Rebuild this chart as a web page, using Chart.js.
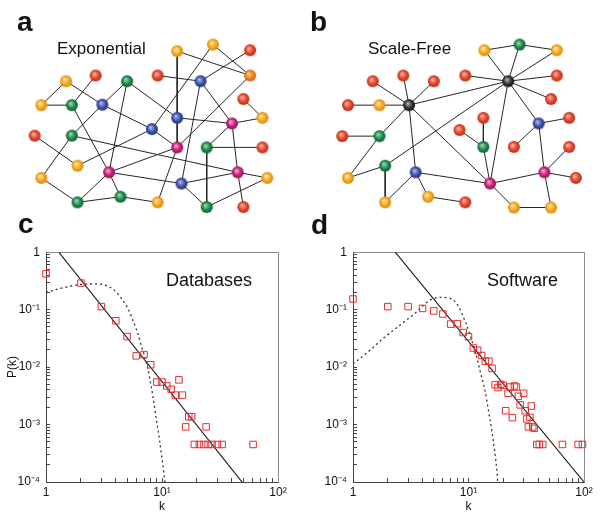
<!DOCTYPE html>
<html>
<head>
<meta charset="utf-8">
<script src="https://cdn.jsdelivr.net/npm/chart.js@4.4.1/dist/chart.umd.min.js"></script>
<style>
  body { margin: 0; background: #fff; }
  #fig { position: relative; width: 600px; height: 517px; background: #fff; font-family: "Liberation Sans", Arial, sans-serif; }
  #fig canvas { position: absolute; }
  .txt { position: absolute; white-space: nowrap; color: #111; }
  .panel { font-size: 28px; line-height: 28px; font-weight: bold; }
  .name { font-size: 17px; line-height: 17px; }
  .series { font-size: 18px; line-height: 18px; }
</style>
</head>
<body>
<div id="fig">
  <canvas id="netA" width="300" height="230" style="left:0;top:0"></canvas>
  <canvas id="netB" width="300" height="230" style="left:300px;top:0"></canvas>
  <canvas id="plotC" width="300" height="282" style="left:0;top:235px"></canvas>
  <canvas id="plotD" width="300" height="282" style="left:300px;top:235px"></canvas>
  <div class="txt panel" style="left:17px;top:8px">a</div>
  <div class="txt panel" style="left:310px;top:8px">b</div>
  <div class="txt panel" style="left:18px;top:210px">c</div>
  <div class="txt panel" style="left:311px;top:211px">d</div>
  <div class="txt name" style="left:57px;top:40px">Exponential</div>
  <div class="txt name" style="left:368px;top:40px">Scale-Free</div>
  <div class="txt series" style="left:166px;top:271px">Databases</div>
  <div class="txt series" style="left:487px;top:271px">Software</div>
</div>
<script>
// ---- network a (exponential) : node positions, colours, links
const aX = [178.5, 216, 255, 93, 126, 158, 203, 255, 62, 36, 68, 100, 248, 178.5, 268, 236, 29,
            68, 152, 178.5, 209.5, 268, 74, 107, 242, 36, 183, 273, 74, 119, 158, 209.5, 248];
const aY = [47, 40, 46, 73, 79, 73, 79, 73, 79, 104.5, 104.5, 104, 98, 118, 118, 124, 137,
            137, 130, 149.5, 149.5, 149.5, 169, 176, 176, 182, 188, 182, 208, 202, 208, 213, 213];
const aColor = ["orange", "orange", "red", "red", "green", "red", "blue", "darkorange", "orange", "orange", "green",
                "blue", "red", "blue", "orange", "pink", "red", "green", "blue", "pink", "green", "red",
                "orange", "pink", "pink", "orange", "blue", "orange", "green", "green", "orange", "green", "red"];
const aEdges = [[1, 14], [14, 20], [1, 8], [2, 8], [2, 19], [3, 7], [6, 7], [7, 16], [7, 27], [8, 20],
                [4, 11], [9, 10], [9, 12], [10, 11], [5, 12], [5, 24], [5, 14], [11, 24], [12, 18], [12, 19],
                [13, 15], [14, 16], [16, 15], [16, 21], [16, 25], [17, 23], [18, 26], [18, 25], [23, 19],
                [19, 20], [20, 24], [20, 31], [21, 22], [21, 32], [24, 27], [27, 25], [27, 32], [25, 28],
                [25, 33], [28, 32], [24, 29], [24, 30], [26, 29], [29, 30], [30, 31]];

// ---- network b (scale-free)
const bX = [486, 523, 562, 401, 466, 511, 562, 369, 433, 343, 376, 407, 556, 485, 543, 575, 337,
            376, 460, 485, 517, 575, 382, 414, 549, 343, 492, 582, 382, 427, 466, 517, 556];
const bY = [46, 40, 46, 73, 73, 79, 73, 79, 79, 104.5, 104.5, 104.5, 98, 118, 124, 118, 137.5,
            137.5, 131, 149, 149, 149, 169, 176, 176, 182, 188, 182, 208, 202, 208, 213.5, 213.5];
const bColor = ["orange", "green", "orange", "red", "red", "black", "red", "red", "red", "red", "orange",
                "black", "red", "red", "blue", "red", "red", "green", "red", "green", "red", "red",
                "green", "blue", "pink", "orange", "pink", "red", "orange", "orange", "red", "orange", "orange"];
const bEdges = [[1, 2], [2, 3], [1, 6], [2, 6], [3, 6], [5, 6], [6, 7], [6, 13], [6, 15], [6, 27], [6, 12],
                [6, 23], [12, 8], [12, 4], [12, 9], [12, 11], [10, 11], [12, 18], [17, 18], [18, 26], [26, 23],
                [23, 29], [29, 24], [12, 24], [24, 30], [30, 31], [24, 27], [12, 27], [14, 20], [19, 20],
                [20, 27], [15, 16], [15, 21], [15, 25], [25, 22], [25, 28], [25, 27], [25, 33], [27, 32], [32, 33]];

// ---- c: Databases
const cK = [1, 2, 3, 4, 5, 6, 7, 8, 9, 10, 11, 12, 13, 14, 15, 16, 17, 18, 19, 21, 23, 24, 25, 27, 30, 33, 61];
const cP = [0.42, 0.29, 0.113, 0.064, 0.034, 0.0157, 0.0165, 0.011, 0.0055, 0.0055, 0.0047, 0.0041, 0.00325,
            0.006, 0.00325, 0.00091, 0.00137, 0.00137, 0.00045, 0.00045, 0.00045, 0.00091, 0.00045, 0.00045,
            0.00045, 0.00045, 0.00045];
const cFitK = [1.29, 49];
const cFitP = [1, 0.0001];
const cExpK = [1, 1.4, 2.0, 2.7, 3.5, 4.1, 4.7, 5.2, 5.7, 6.2, 6.7, 7.2, 7.8, 8.3, 8.9, 9.5, 10.1, 10.6];
const cExpP = [0.2, 0.24, 0.275, 0.28, 0.25, 0.195, 0.135, 0.095, 0.06, 0.038, 0.022, 0.014, 0.0068, 0.0033,
               0.0013, 0.00055, 0.00022, 0.0001];

// ---- d: Software
const dK = [1, 2, 3, 4, 5, 6, 7, 8, 9, 10, 11, 12, 13, 14, 15, 16, 17, 18, 19, 20, 21, 22, 23, 24, 25, 26, 27, 28,
            30, 31, 32, 33, 34, 35, 36, 37, 39, 41, 44, 65, 89, 97];
const dP = [0.153, 0.113, 0.113, 0.105, 0.095, 0.084, 0.056, 0.057, 0.040, 0.034, 0.0215, 0.0196, 0.0159, 0.0127,
            0.0127, 0.0095, 0.0049, 0.0044, 0.0050, 0.0048, 0.00174, 0.0035, 0.0045, 0.00132, 0.0047, 0.0045,
            0.0031, 0.0022, 0.0035, 0.00174, 0.00125, 0.00091, 0.00134, 0.0021, 0.00091, 0.00086,
            0.00045, 0.00045, 0.00045, 0.00045, 0.00045, 0.00045];
const dFitK = [2.32, 100];
const dFitP = [1, 0.0001];
const dExpK = [1, 1.32, 1.84, 2.56, 3.57, 4.66, 5.69, 6.94, 8.2, 9.36, 10.3, 11.4, 12.6, 13.9, 14.9, 15.9, 16.8, 17.6, 17.9];
const dExpP = [0.0114, 0.0177, 0.032, 0.054, 0.092, 0.147, 0.163, 0.157, 0.113, 0.062, 0.0366, 0.0189, 0.0085,
               0.00386, 0.00174, 0.00079, 0.00036, 0.00016, 0.0001];

// axis labels
const xTickValues = [1, 10, 100];
const xTickLabels = ["1", "10¹", "10²"];
const yTickValues = [0.0001, 0.001, 0.01, 0.1, 1];
const yTickLabels = ["10⁻⁴", "10⁻³", "10⁻²", "10⁻¹", "1"];

// shaded ball sprites for the nodes
function sphere(base, light, dark) {
  const c = document.createElement("canvas");
  c.width = c.height = 14;
  const g = c.getContext("2d");
  const grad = g.createRadialGradient(5.6, 5.2, 0.4, 7, 7, 6.4);
  grad.addColorStop(0, light);
  grad.addColorStop(0.55, base);
  grad.addColorStop(1, dark);
  g.fillStyle = grad;
  g.beginPath();
  g.arc(7, 7, 6, 0, Math.PI * 2);
  g.fill();
  return c;
}
const sprites = {
  red: sphere("#e5472c", "#f9b3a0", "#b52a14"),
  orange: sphere("#f5a81f", "#fde7a6", "#d4870c"),
  darkorange: sphere("#ee8420", "#fbcf8e", "#c9620a"),
  green: sphere("#1e8b4c", "#9cd8b1", "#0d5a2c"),
  blue: sphere("#3f52a8", "#b3bdf0", "#25307a"),
  pink: sphere("#c8217a", "#f6a9d2", "#8c0e52"),
  black: sphere("#333333", "#b5b5b5", "#111111")
};

const base = {
  animation: false,
  responsive: false,
  events: [],
  plugins: { legend: { display: false }, tooltip: { enabled: false } }
};

function createNetwork(id, xs, ys, colors, edges, xMin) {
  const nodes = xs.map((x, i) => ({ x: x, y: ys[i] }));
  const links = edges.map(([a, b]) => ({
    data: [{ ...nodes[a - 1] }, { ...nodes[b - 1] }],
    showLine: true,
    pointRadius: 0,
    borderColor: "#262626",
    borderWidth: 1
  }));
  return new Chart(document.getElementById(id), {
    type: "scatter",
    data: {
      datasets: [{
        data: nodes,
        pointStyle: (ctx) => sprites[colors[ctx.dataIndex]],
        pointRadius: 6
      }, ...links]
    },
    options: {
      ...base,
      layout: { padding: 0 },
      scales: {
        x: { type: "linear", min: xMin, max: xMin + 300, display: false },
        y: { type: "linear", min: 0, max: 230, reverse: true, display: false }
      }
    }
  });
}

function decadeTicks(lo, hi) {
  const t = [];
  for (let e = lo; e < hi; e++) {
    for (let s = 1; s < 10; s++) t.push(s * Math.pow(10, e));
  }
  t.push(Math.pow(10, hi));
  return t.map((v) => ({ value: v }));
}

function labelFor(values, labels) {
  return (v) => {
    const i = values.findIndex((t) => Math.abs(Math.log10(t) - Math.log10(v)) < 1e-6);
    return i < 0 ? "" : labels[i];
  };
}

// frame round the plot area (top and right sides)
const frame = {
  id: "frame",
  beforeDatasetsDraw(chart) {
    const { ctx, chartArea: a } = chart;
    ctx.save();
    ctx.strokeStyle = "#8a8a8a";
    ctx.lineWidth = 1;
    ctx.beginPath();
    ctx.moveTo(Math.round(a.left) + 0.5, Math.round(a.top) + 0.5);
    ctx.lineTo(Math.round(a.right) + 0.5, Math.round(a.top) + 0.5);
    ctx.lineTo(Math.round(a.right) + 0.5, Math.round(a.bottom) + 0.5);
    ctx.stroke();
    ctx.restore();
  }
};

const tickFont = { family: "'Liberation Sans', Arial, sans-serif", size: 12 };

function createPlot(id, k, p, fitK, fitP, expK, expP, yAxisWidth, rightPad, yTitle) {
  const pts = k.map((v, i) => ({ x: v, y: p[i] }));
  const fit = fitK.map((v, i) => ({ x: v, y: fitP[i] }));
  const exp = expK.map((v, i) => ({ x: v, y: expP[i] }));
  return new Chart(document.getElementById(id), {
    type: "scatter",
    data: {
      datasets: [{
        data: pts,
        pointStyle: "rect",
        pointRadius: 4.6,
        borderColor: "#e42d2d",
        backgroundColor: "rgba(0,0,0,0)",
        borderWidth: 1,
        clip: false
      }, {
        data: fit,
        showLine: true,
        pointRadius: 0,
        borderColor: "#111",
        borderWidth: 1.1
      }, {
        data: exp,
        showLine: true,
        pointRadius: 0,
        borderColor: "#333",
        borderWidth: 1.3,
        borderDash: [2, 3],
        cubicInterpolationMode: "monotone"
      }]
    },
    options: {
      ...base,
      layout: { padding: { top: 15, right: rightPad, left: 0, bottom: 0 } },
      scales: {
        x: {
          type: "logarithmic",
          min: 1,
          max: 100,
          afterBuildTicks: (s) => { s.ticks = decadeTicks(0, 2); },
          afterFit: (s) => { s.height = 35; },
          border: { color: "#444", width: 1 },
          grid: { drawOnChartArea: false, drawTicks: true, tickLength: -4, color: "#444" },
          ticks: { autoSkip: false, maxRotation: 0, padding: 7, color: "#111", font: tickFont,
                   callback: labelFor(xTickValues, xTickLabels) },
          title: { display: true, text: "k", color: "#111", font: tickFont,
                   padding: { top: 0, bottom: 3 } }
        },
        y: {
          type: "logarithmic",
          min: 0.0001,
          max: 1,
          afterBuildTicks: (s) => { s.ticks = decadeTicks(-4, 0); },
          afterFit: (s) => { s.width = yAxisWidth; },
          border: { color: "#444", width: 1 },
          grid: { drawOnChartArea: false, drawTicks: true, tickLength: -4, color: "#444" },
          ticks: { autoSkip: false, padding: 10, color: "#111", font: tickFont,
                   callback: labelFor(yTickValues, yTickLabels) },
          title: { display: !!yTitle, text: yTitle || "", color: "#111", font: tickFont,
                   padding: { top: 5, bottom: 0 } }
        }
      }
    },
    plugins: [frame]
  });
}

createNetwork("netA", aX, aY, aColor, aEdges, 0);
createNetwork("netB", bX, bY, bColor, bEdges, 300);
createPlot("plotC", cK, cP, cFitK, cFitP, cExpK, cExpP, 46, 22, "P(k)");
createPlot("plotD", dK, dP, dFitK, dFitP, dExpK, dExpP, 53, 16, "");
</script>
</body>
</html>
